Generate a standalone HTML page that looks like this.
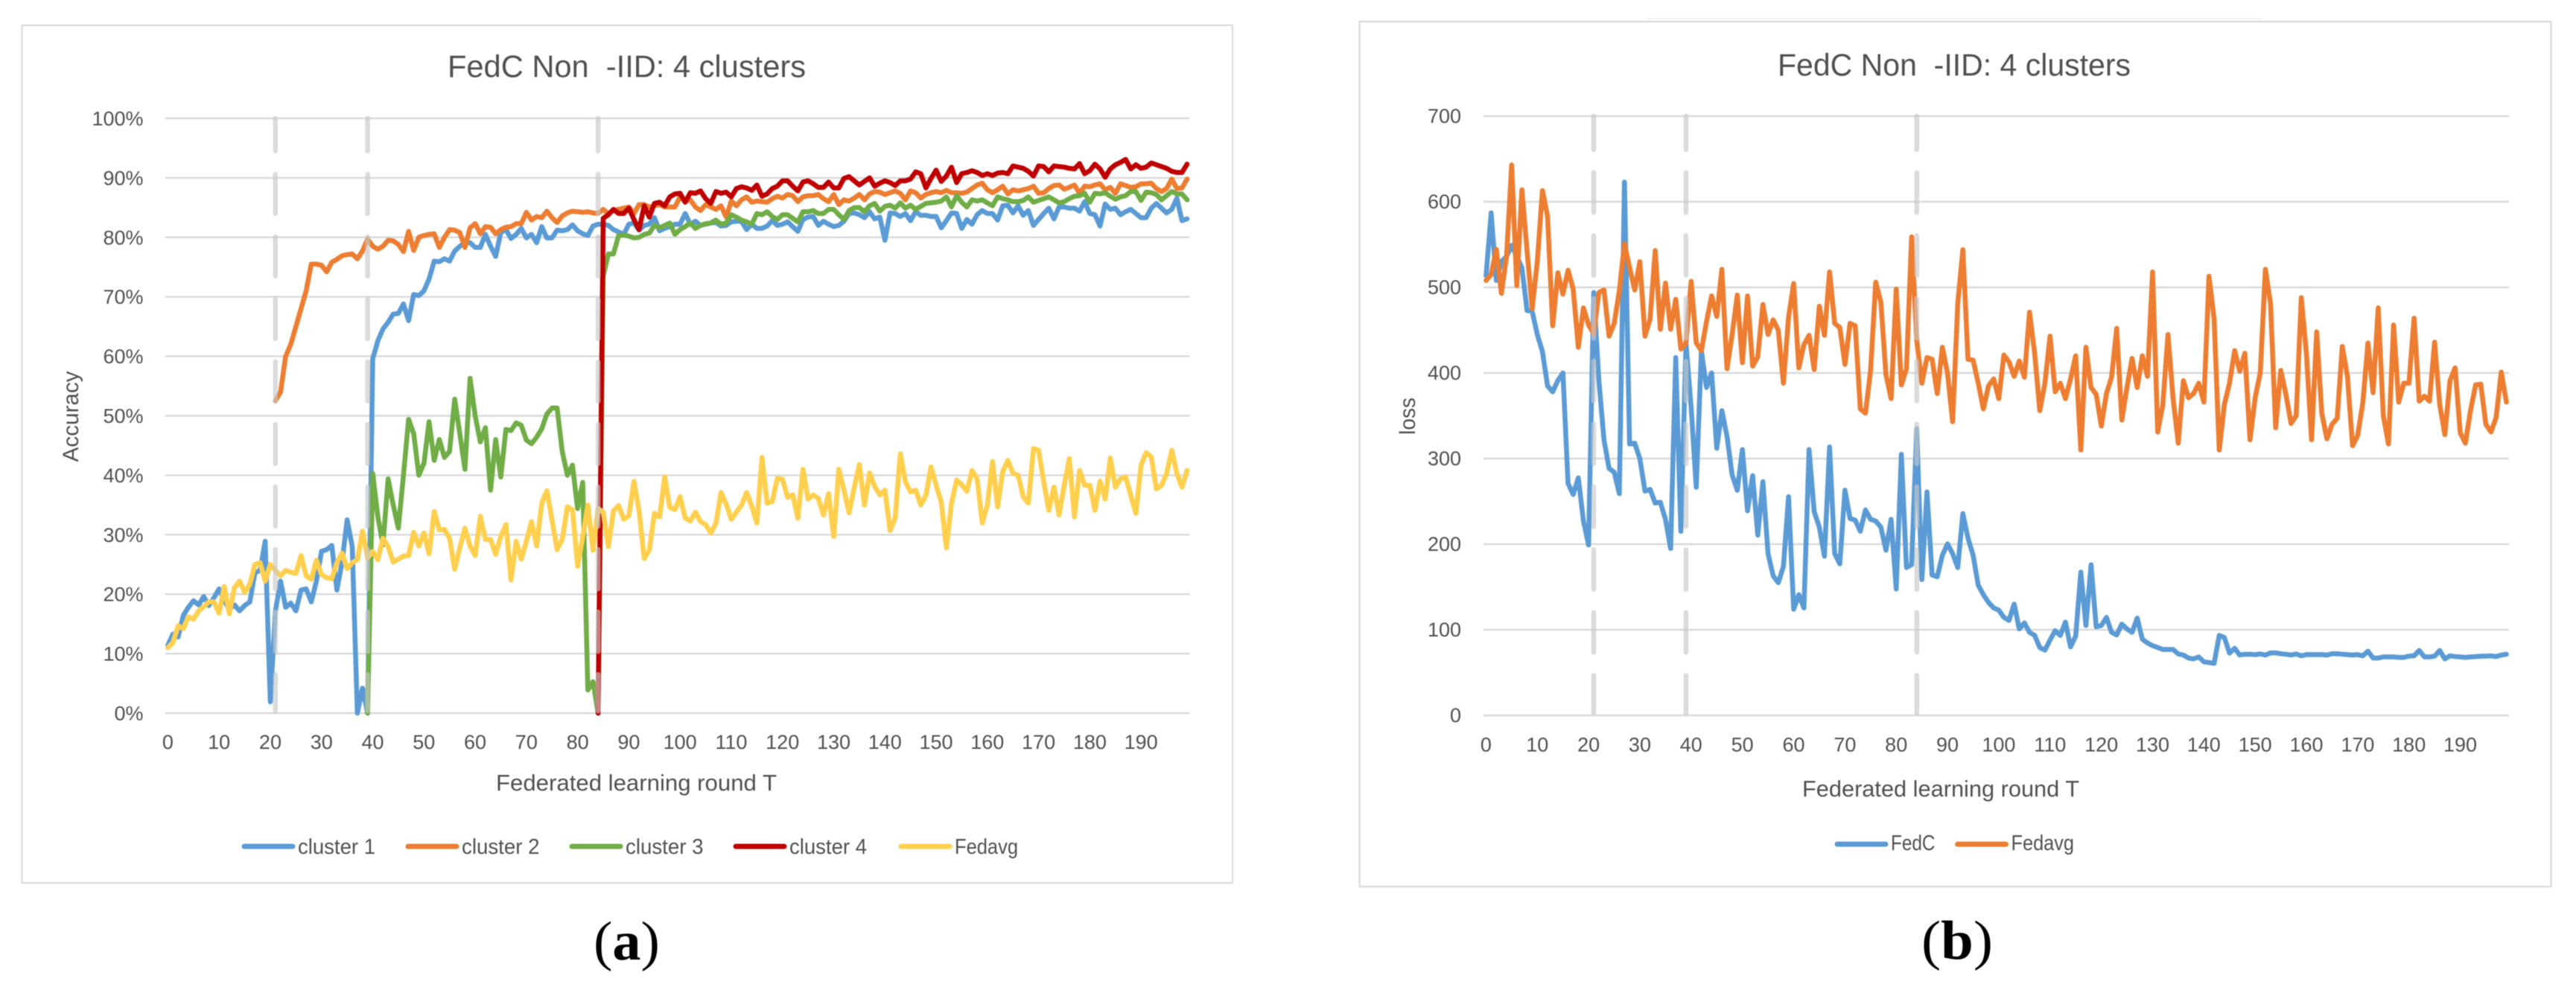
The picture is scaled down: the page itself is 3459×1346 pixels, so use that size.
<!DOCTYPE html>
<html lang="en">
<head>
<meta charset="utf-8">
<title>FedC Non-IID: 4 clusters</title>
<style>
html,body{margin:0;padding:0;background:#fff;}
body{width:3459px;height:1346px;overflow:hidden;}
svg{display:block;filter:blur(0.6px);}
text{font-family:"Liberation Sans",sans-serif;fill:#505050;white-space:pre;}
</style>
</head>
<body>
<svg id="figure" xmlns="http://www.w3.org/2000/svg" width="3459" height="1346" viewBox="0 0 3459 1346">
  <rect x="0" y="0" width="3459" height="1346" fill="#ffffff"/>
  <line x1="2212" y1="25" x2="3036" y2="25" stroke="#eeeeee" stroke-width="1.5"/>

  <g id="chart-a">
    <rect x="29.5" y="34" width="1625.5" height="1152" fill="#ffffff" stroke="#d9d9d9" stroke-width="2.2"/>
    <text x="601" y="103.5" font-size="42" textLength="481" lengthAdjust="spacingAndGlyphs">FedC Non  -IID: 4 clusters</text>
    <text x="666" y="1062" font-size="31" textLength="377" lengthAdjust="spacingAndGlyphs">Federated learning round T</text>
    <text transform="translate(105 620.5) rotate(-90)" x="0" y="0" font-size="30" textLength="122" lengthAdjust="spacingAndGlyphs">Accuracy</text>
  </g>

  <g id="chart-b">
    <rect x="1825.5" y="29" width="1600" height="1162" fill="#ffffff" stroke="#d9d9d9" stroke-width="2.2"/>
    <text x="2387" y="101.5" font-size="42" textLength="474" lengthAdjust="spacingAndGlyphs">FedC Non  -IID: 4 clusters</text>
    <text x="2420" y="1070" font-size="31" textLength="372" lengthAdjust="spacingAndGlyphs">Federated learning round T</text>
    <text transform="translate(1900 584) rotate(-90)" x="0" y="0" font-size="30" textLength="50" lengthAdjust="spacingAndGlyphs">loss</text>
  </g>

  <text x="797" y="1289" font-size="74" style="font-family:'Liberation Serif',serif;fill:#000000" textLength="89" lengthAdjust="spacingAndGlyphs">(<tspan font-weight="bold">a</tspan>)</text>
  <text x="2580" y="1288" font-size="74" style="font-family:'Liberation Serif',serif;fill:#000000" textLength="96" lengthAdjust="spacingAndGlyphs">(<tspan font-weight="bold">b</tspan>)</text>
</svg>

<script>
// ---------- Chart (a): accuracy values (percent), one entry per round ----------
const cluster1 = [
11.4,13.3,12.8,16.4,17.8,18.9,18.2,19.6,18.1,19.4,
20.9,18.9,17.5,18.2,17.2,18.1,18.7,23.6,24,28.9,
1.9,17.2,22.2,17.8,18.5,17.2,20.7,20.9,18.7,22.2,
27.2,27.5,28.2,20.7,25.3,32.5,28,0,4.2,0,
59.6,62.6,64.6,65.7,67.1,67.2,68.8,66,70.4,70.2,
71,73,76,75.9,76.4,76,77.7,78.5,79.1,79.1,
78.3,78.3,80.5,78.5,76.8,80.8,81.3,79.8,80.5,81.5,
79.9,80.5,79.1,81.8,79.9,79.9,81.2,81.1,81.3,82.1,
81.1,80.6,80.3,81.9,82.2,82.2,82,81.3,80.9,80.5,
82.2,82.4,81.2,82,82.2,83.3,81.1,81.5,81.8,82.2,
82.2,84,82.2,82.7,82,82.2,82.4,82.5,81.9,82,
82.6,82.7,82.7,81.3,82.2,81.5,81.5,81.9,82.8,82,
82.2,82.6,81.8,81,83,83.4,83.5,82,82.7,82.2,
81.8,82,82.7,84,84.1,83.8,83.3,84.3,83.1,83.4,
79.5,84.1,84,83.5,84,82.8,84.3,83.7,83.7,83.5,
83.5,81.6,82.8,84.1,84,81.5,83,82.2,83.8,84.5,
84,84,82.9,85.3,85.4,84.1,85.3,83.7,84.5,82,
83,84,84.9,83.1,85.1,85.1,84.9,84.9,84.4,86,
84,83.8,81.9,85.6,84.7,84.9,83.8,84.3,84.7,84,
83.3,83.3,84.9,85.7,84.9,84.1,84.7,86.6,82.8,83.1];

const cluster2 = [
null,null,null,null,null,null,null,null,null,null,
null,null,null,null,null,null,null,null,null,null,
null,52.5,54,60,62,65,68,71,75.5,75.5,
75.3,74.2,75.8,76.3,76.9,77.1,77.2,76.4,77.7,79.7,
78.5,78,78.5,79.5,79.4,78.8,77.6,81,77.8,80,
80.3,80.5,80.6,78.3,80,81.3,81.2,80.8,78.3,81.6,
82.3,80.6,81.8,81.7,80.6,81.3,81.7,81.8,82.3,82.3,
84.2,82.9,83.5,83.3,84.4,83.3,82.5,83.6,84.1,84.4,
84.3,84.2,84.3,84.1,84,84.7,84,84.5,84.7,84.9,
85.1,84,85.5,85.5,85.1,85.3,85.5,85.1,85.1,85.1,
86.8,86.1,86.3,85.1,84.5,85.5,85.1,84.7,85.3,83.4,
86.1,85.3,86.3,86.8,85.9,86.1,86,85.9,86.5,86.9,
86.6,87.2,87,86,86.8,87,87,87.2,86.5,86,
87.2,85.5,86.3,86.1,86.6,87.2,86.3,87.3,87.7,87.6,
87.2,87.5,87.8,87.4,86.3,87.8,87.5,86.6,87.2,87.5,
87.7,87.5,87.9,87.5,87.5,87.4,87.6,88.2,88.8,89.1,
88,87.5,88,88.6,87.3,88,87.8,88,88.2,88.6,
87.4,87.5,88.2,88.7,88.8,88.1,88.4,88.8,87.4,88.6,
88.5,88.8,89,88,88.4,87.4,89,88.7,88.4,88.5,
89,89,89.1,88.2,87.7,88.2,89.8,88.2,88.3,89.8];

const cluster3 = [
null,null,null,null,null,null,null,null,null,null,
null,null,null,null,null,null,null,null,null,null,
null,null,null,null,null,null,null,null,null,null,
null,null,null,null,null,null,null,null,null,0,
40.3,33,28.3,39.4,35,31.1,40,49.4,47,40,
42,49,42.5,46,43,44,52.8,47,41,56.3,
50,45.6,48,37.5,46,39.7,47.7,47.5,48.8,48.4,
45.9,45.3,46.4,47.8,50.3,51.3,51.3,44,40,41.7,
34.4,38.8,3.9,5.3,0,73.5,77.2,77.2,80.3,80.4,
80.2,79.9,80,80.5,80.7,82,81.6,82,82.4,80.5,
81.3,81.8,82.4,81.5,82,82.3,82.4,82.9,82.2,82.4,
83.8,83.4,82.9,82.6,82.2,84,83.8,84.3,83.5,83,
83.8,83.8,83.2,82.6,84.3,84.3,84.5,84,84,84.7,
84.7,83.8,83,84.5,85,85,84.3,85.3,85.7,84.4,
85.2,85.4,84.9,85.8,84.9,85.4,84.7,85.2,85.7,85.8,
85.9,86.1,86.8,85.1,87,85.9,85.1,86.3,86.1,86.3,
85.8,85.3,86.8,86.5,86.3,86,86,86.2,86.8,85.9,
86.2,86.5,86.8,86.3,85.8,86,86.5,86.9,87,87.4,
85.9,87.4,87.3,87.5,86.9,86.4,86.8,87,87.7,87.7,
86.2,87.6,87.5,87.2,86.3,87,87.7,87.3,87.3,86.3];

const cluster4 = [
null,null,null,null,null,null,null,null,null,null,
null,null,null,null,null,null,null,null,null,null,
null,null,null,null,null,null,null,null,null,null,
null,null,null,null,null,null,null,null,null,null,
null,null,null,null,null,null,null,null,null,null,
null,null,null,null,null,null,null,null,null,null,
null,null,null,null,null,null,null,null,null,null,
null,null,null,null,null,null,null,null,null,null,
null,null,null,null,0,83.2,83.8,84.7,84,84,
84.9,83,81.3,85.3,83.4,85.7,85.9,85.3,86.8,87.3,
87.4,85.9,87.5,87.4,87.8,86.5,85.7,87.7,87.4,87.6,
86.8,88.2,88.5,88.3,87.9,88.8,86.9,87.3,88.2,88.6,
89.5,89.5,88.6,87.8,89.3,89.5,89,88.4,88.4,89.3,
88.3,88.3,89.9,90.2,89.5,88.8,89.4,90,88.6,89.1,
89.5,89.2,88.7,89.5,89.5,89.8,91,90.7,88.3,89.9,
91.3,89.4,90.3,91.8,89.2,90.7,90.9,91.2,90.9,90.4,
90.7,90.4,90.8,90.9,90.7,92,91.8,91.6,91.1,90.3,
92,91.9,91,92,91.9,91.8,91.6,91.5,92.4,90.7,
91.2,92.3,91.5,90.1,91.5,92.2,92.6,93.1,91.5,92.2,
91.6,91.8,92.5,92.2,91.9,91.6,91.1,90.9,90.9,92.3];

const fedavgAccuracy = [
11,11.9,14.7,14.2,16.2,15.8,17.2,17.9,18.7,18.7,
16.8,21.3,16.7,21.1,22.2,20.3,21.7,25,25.3,22.2,
25,24,23.1,24,23.7,23.5,26.5,23.1,22.5,25.7,
23.3,22.8,22.6,25.3,26.9,24.3,25.3,25.8,30.6,26.1,
27.2,25.8,29.4,28,25.4,25.9,26.4,26.5,30.4,28.1,
30.3,26.8,33.9,30.8,30.9,29.4,24.2,27.8,31.1,28.1,
26.5,33.1,29.2,29.2,26.7,29.7,31.7,22.4,28.9,25.9,
28.9,32.2,28.1,35.3,37.4,32.5,27.5,29.2,34.7,34.2,
24.7,29.7,35,27.4,34.4,33.8,28,34,34.9,32.6,
33.2,39,34,26,27.4,33.6,33,39.7,34.6,34.2,
36.4,32.8,32.3,33.8,32.2,31.7,30.3,31.9,37.1,35.2,
32.6,33.8,35,37.1,34.8,32,43,35.3,35.6,39.5,
39.3,36.3,36.7,32.8,41,36,36.7,36.1,33.3,36.9,
29.7,41,37.5,33.7,37.9,41.8,35,40.4,38.1,36.7,
37.5,30.7,32.8,43.6,38.9,37.2,37.5,35,36.6,41.4,
38.3,35.5,27.8,35.3,39.2,38.4,37.3,40.8,39.4,32,
35,42.3,34.7,40.6,42.5,40.3,40,36.4,35.3,44.5,
44.2,38.9,34.1,38,33.3,38.3,42.8,33,40.8,38.3,
38.3,34.1,39,36,42.9,38,39.4,39.7,36.6,33.6,
41.7,43.8,43.1,37.7,38.3,40.3,44.2,40.3,38,40.8];

const accuracyTicks = [0,10,20,30,40,50,60,70,80,90,100];
const accuracyMarkerRounds = [21,39,84];
const accuracySeriesNames = ["cluster 1","cluster 2","cluster 3","cluster 4","Fedavg"];

// ---------- Chart (b): loss values, one entry per round ----------
const fedcLoss = [
513.5,587,508,530,536,549,536,523,473,472,
445,425,385,378,391,400,271,258,277.5,227,
199,494,392,322,288.5,284,259,623,317,318,
300,262,264,248,249,229,195,418,215,435,
360,266.5,426,383,400,312,356,326,281,263,
310.5,239,280,210.6,273,189,163,155,174,255.5,
124,141,125.5,310.6,238,220,186,313.6,189,177,
263,230,228,215,240,229,227,220,193,229,
147.6,305,172.7,176,335,158.6,261,164,162,187,
200.4,189,172.7,235.7,207,187,152,141,132,125.6,
123,114.5,111,130,101,108,97,93.4,79.3,76.2,
88,99,93.4,109,80,92.5,167.4,105,176,103.5,
105,114.5,97,94,106.6,101,97,113.7,89,84.6,
81.5,79.3,77,77,77,71.8,70.5,67,66,68.3,
62.6,61.7,60.8,93.4,91,72.7,78.4,70.5,71.4,71.4,
71,71.8,70.5,73,73,72,71.4,70.5,71.8,69.6,
71,71,71,71,70.5,72,72,71.4,71,70.5,
71,69.6,75,67,67,68.3,68.3,68.3,67.8,67.8,
69.2,69.6,75.8,68.3,68.3,69.2,75.8,66,69.6,68.7,
68.3,67.8,68.3,68.7,69.2,69.2,69.6,68.7,70.5,71.4];

const fedavgLoss = [
508,515,544.5,493,536,643,502,614,543,475,
530,613,583,455,517,492,520,498,430,476,
456,446,494,497,443,458,496,551,523,497,
530,443,463,543,451,505,451,486,428,435,
507,435,426,460,490,466,521,405,445,491,
412,490,408,419,480,445,462,450,388,465,
504.5,406,433,444,404,478,444,518,458,453,
410,458,455,358,353,403,506,483,398,370,
498,386,405,559,438,388,418,416,376,430,
400,343,481,544,416,415,388,358,385,393,
370,421,413,396,414,395,471,423,356,388,
443,378,388,370,393,420,310,430,383,375,
338,376,395,452,345,383,417,383,420,396,
518,331,363,445,370,318,391,371,376,388,
366,513,463,310,363,388,426,402,423,322,
371,400,521,481,336,403,375,341,350,488,
423,322,448,353,323,340,347,431,396,315,
327,365,435,377,476,350,317,456,366,388,
388,464,367,373,367,436,363,328,391,406,
330,318,356,386,387,340,331,348,401,366];

const lossTicks = [0,100,200,300,400,500,600,700];
const lossMarkerRounds = [21,39,84];
const lossSeriesNames = ["FedC","Fedavg"];

// Shared: labelled x-axis rounds
const roundTicks = [0,10,20,30,40,50,60,70,80,90,100,110,120,130,140,150,160,170,180,190];

// ---------- Axis functions ----------
function xA(round){ return 225.4 + 6.8775 * round; }
function yA(pct){ return 958 - 7.99 * pct; }
function xB(round){ return 1995.4 + 6.885 * round; }
function yB(loss){ return 961 - 1.15 * loss; }

const NS = "http://www.w3.org/2000/svg";
function make(tag, attrs, parent){
  const node = document.createElementNS(NS, tag);
  for (const key in attrs) node.setAttribute(key, attrs[key]);
  parent.appendChild(node);
  return node;
}
function pathFrom(values, xFn, yFn){
  let d = "", pen = false;
  values.forEach(function(v, i){
    if (v === null) { pen = false; return; }
    d += (pen ? "L" : "M") + xFn(i).toFixed(2) + " " + yFn(v).toFixed(2);
    pen = true;
  });
  return d;
}

const chartA = document.getElementById("chart-a");
const chartB = document.getElementById("chart-b");

// ---------- Chart (a) axes ----------
accuracyTicks.forEach(function(t){
  const line = make("line", {x1:222, x2:1597.5, y1:yA(t), y2:yA(t), stroke:"#d9d9d9", "stroke-width":2.4}, chartA);
  
  
  const label = make("text", {x:192.5, y:yA(t)+9.5, "font-size":27, "text-anchor":"end"}, chartA);
  label.textContent = t + "%";
  
  
});
roundTicks.forEach(function(t){
  const label = make("text", {x:xA(t), y:1006, "font-size":27, "text-anchor":"middle"}, chartA);
  label.textContent = String(t);
  
  
});

// ---------- Chart (a) series ----------
const seriesA = [cluster1, cluster2, cluster3, cluster4, fedavgAccuracy];
const coloursA = ["#5b9bd5","#ed7d31","#70ad47","#c00000","#ffcf4d"];
seriesA.forEach(function(values, s){
  const line = make("path", {d:pathFrom(values, xA, yA), fill:"none", stroke:coloursA[s], "stroke-width":6.6, "stroke-linejoin":"round", "stroke-linecap":"round"}, chartA);
  
  
});
accuracyMarkerRounds.forEach(function(r){
  const line = make("line", {x1:xA(r), x2:xA(r), y1:159, y2:955, stroke:"rgba(200,200,200,0.65)", "stroke-width":6.5, "stroke-linecap":"round", "stroke-dasharray":"53 31", "stroke-dashoffset":9}, chartA);
  
  
});

// ---------- Chart (a) legend ----------
const legendStartsA = [325, 545, 765, 985, 1207];
const legendTextSpansA = [104, 104.5, 104.5, 104, 85];
accuracySeriesNames.forEach(function(name, s){
  const x0 = legendStartsA[s];
  const swatch = make("line", {x1:x0+3, x2:x0+68, y1:1137, y2:1137, stroke:coloursA[s], "stroke-width":7, "stroke-linecap":"round"}, chartA);
  
  
  const label = make("text", {x:x0+75, y:1147, "font-size":29, textLength:legendTextSpansA[s], lengthAdjust:"spacingAndGlyphs"}, chartA);
  label.textContent = name;
  
  
});

// ---------- Chart (b) axes ----------
lossTicks.forEach(function(t){
  const line = make("line", {x1:1992, x2:3369, y1:yB(t), y2:yB(t), stroke:"#d9d9d9", "stroke-width":2.4}, chartB);
  
  
  const label = make("text", {x:1962, y:yB(t)+9, "font-size":27, "text-anchor":"end"}, chartB);
  label.textContent = String(t);
  
  
});
roundTicks.forEach(function(t){
  const label = make("text", {x:xB(t), y:1009.5, "font-size":27, "text-anchor":"middle"}, chartB);
  label.textContent = String(t);
  
  
});

// ---------- Chart (b) series ----------
const seriesB = [fedcLoss, fedavgLoss];
const coloursB = ["#5b9bd5","#ed7d31"];
seriesB.forEach(function(values, s){
  const line = make("path", {d:pathFrom(values, xB, yB), fill:"none", stroke:coloursB[s], "stroke-width":6.6, "stroke-linejoin":"round", "stroke-linecap":"round"}, chartB);
  
  
});
lossMarkerRounds.forEach(function(r){
  const line = make("line", {x1:xB(r), x2:xB(r), y1:156, y2:958, stroke:"rgba(200,200,200,0.65)", "stroke-width":6.5, "stroke-linecap":"round", "stroke-dasharray":"53.4 31", "stroke-dashoffset":8.4}, chartB);
  
  
});

// ---------- Chart (b) legend ----------
const legendStartsB = [2464, 2625.5];
const legendTextSpansB = [59.5, 84.5];
lossSeriesNames.forEach(function(name, s){
  const x0 = legendStartsB[s];
  const swatch = make("line", {x1:x0+3, x2:x0+68, y1:1134, y2:1134, stroke:coloursB[s], "stroke-width":7, "stroke-linecap":"round"}, chartB);
  
  
  const label = make("text", {x:x0+75, y:1142, "font-size":29, textLength:legendTextSpansB[s], lengthAdjust:"spacingAndGlyphs"}, chartB);
  label.textContent = name;
  
  
});
</script>
</body>
</html>
